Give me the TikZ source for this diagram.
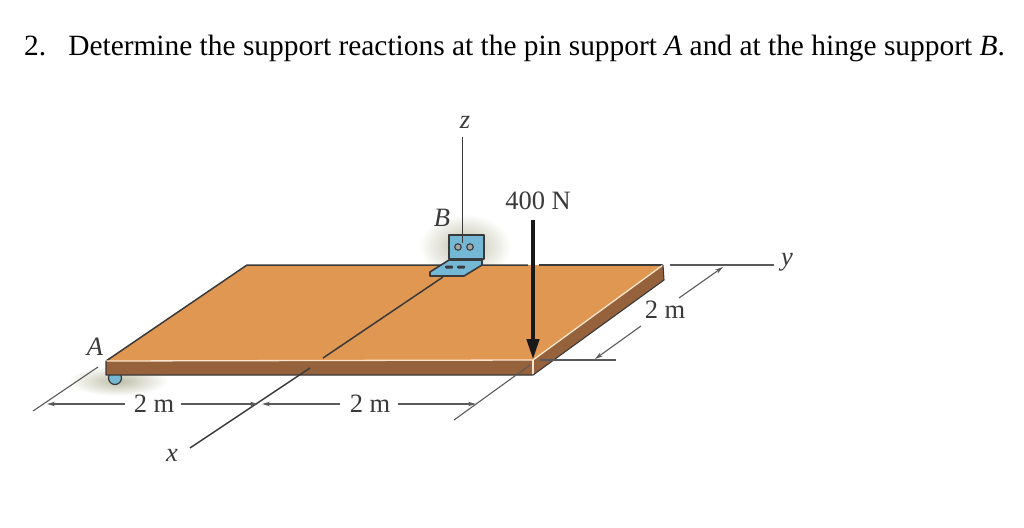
\documentclass[tikz,border=0pt]{standalone}
\usepackage{fontspec}
\setmainfont{Liberation Serif}
\usetikzlibrary{arrows.meta}
\definecolor{plate}{HTML}{E09752}
\definecolor{side}{HTML}{96623C}
\definecolor{edge}{HTML}{FBE6CF}
\definecolor{steel}{HTML}{74B8D6}
\definecolor{ink}{HTML}{3A3A3A}
\definecolor{dimcol}{HTML}{5A5A5A}
\definecolor{glow}{HTML}{BDBDA6}
\tikzset{
  dimline/.style={draw=dimcol,line width=1.1pt},
  dimtip/.style={dimline,-{Stealth[length=8pt,width=4.5pt]}},
  axisline/.style={draw=ink,line width=1.4pt},
  steelpart/.style={fill=steel,draw=ink,line width=1.6pt,line join=round},
  lab/.style={text=ink,inner sep=0pt,font=\fontsize{26.5}{27}\selectfont},
  hole/.style={circle,fill=gray!70,draw=ink,line width=1.1pt,inner sep=0pt,minimum size=6.5pt},
}
\begin{document}
\begin{tikzpicture}[x=1pt,y=-1pt]
\useasboundingbox (0,0) rectangle (1024,527);
\node[anchor=base west,inner sep=0pt,font=\fontsize{29.4}{30}\selectfont] (title) at (24,56)
  {2.\hspace{0.75em}Determine the support reactions at the pin support \textit{A} and at the hinge support \textit{B}.};
% plate corners
\coordinate (TL) at (247,265); \coordinate (TR) at (663,265);
\coordinate (BR) at (533,360); \coordinate (BL) at (106,361);
\coordinate (BLb) at (106,375); \coordinate (BRb) at (533,375);
\coordinate (TRb) at (664,280);
\coordinate (G1) at (528,265); \coordinate (G2) at (539,265);
% glows
\shade[inner color=glow,outer color=white] (465,246) ellipse [x radius=46,y radius=32];
\shade[inner color=glow,outer color=white] (118,381) ellipse [x radius=50,y radius=15];
% pin at A
\draw[fill=steel,draw=ink,line width=1.2pt] (115,378) circle [radius=6.5];
% plate
\fill[side] (BL) -- (BR) -- (TR) -- (TRb) -- (BRb) -- (BLb) -- cycle;
\fill[plate] (BL) -- (TL) -- (TR) -- (BR) -- cycle;
\draw[ink,line width=1.5pt] (BL) -- (TL) -- (G1);
\draw[ink,line width=1.5pt] (G2) -- (TR);
\draw[edge,line width=1.3pt] (BL) -- (BR) -- (TR);
\draw[edge,line width=1.6pt] (BR) -- (BRb);
\draw[ink,line width=1.1pt,line join=round] (BL) -- (BLb) -- (BRb) -- (TRb) -- (TR);
% x axis on plate
\coordinate (xa) at (443,277); \coordinate (xb) at (323,358);
\coordinate (xc) at (310,368); \coordinate (xd) at (190,448);
\draw[axisline,line width=1.5pt] (xa) -- (xb);
\draw[axisline,line width=1.5pt] (xc) -- (xd);
% bracket
\draw[steelpart] (449,235) -- (484,235) -- (484,259) -- (449,259) -- cycle;
\draw[steelpart] (449,260) -- (482,260) -- (482,265) -- (464,276) -- (430,276) -- (430,272) -- cycle;
\node[hole] (h1) at (458,247) {};
\node[hole] (h2) at (470,247) {};
\fill[ink,rounded corners=1pt] (445,265.5) rectangle (453,268.5);
\fill[ink,rounded corners=1pt] (457,265.5) rectangle (465,268.5);
% z axis
\coordinate (ztop) at (462.5,137); \coordinate (zbot) at (462.5,243);
\draw[axisline] (ztop) -- (zbot);
% force
\coordinate (fa) at (533,220); \coordinate (fb) at (533,359);
\draw[black!90,line width=3.2pt,-{Stealth[length=20pt,width=12.5pt,inset=0pt]}] (fa) -- (fb);
% dimension and extension lines
\coordinate (e1a) at (98,367); \coordinate (e1b) at (33,411);
\coordinate (e2a) at (530,365); \coordinate (e2b) at (454,420);
\draw[dimline] (e1a) -- (e1b);
\draw[dimline] (e2a) -- (e2b);
\coordinate (d1) at (47,404); \coordinate (d2) at (125,404);
\coordinate (d3) at (181,404); \coordinate (d4) at (258,404);
\coordinate (d5) at (262,404); \coordinate (d6) at (340,404);
\coordinate (d7) at (398,404); \coordinate (d8) at (476,404);
\draw[dimline,{Stealth[length=8pt,width=4.5pt]}-] (d1) -- (d2);
\draw[dimtip] (d3) -- (d4);
\draw[dimline,{Stealth[length=8pt,width=4.5pt]}-] (d5) -- (d6);
\draw[dimtip] (d7) -- (d8);
\coordinate (ya) at (670,265); \coordinate (yb) at (774,265);
\draw[dimline,line width=1.3pt] (ya) -- (yb);
\coordinate (r1) at (679,298); \coordinate (r2) at (723,267);
\coordinate (r3) at (641,326); \coordinate (r4) at (595,359);
\draw[dimtip] (r1) -- (r2);
\draw[dimtip] (r3) -- (r4);
\coordinate (e3a) at (540,360); \coordinate (e3b) at (616,360);
\draw[dimline] (e3a) -- (e3b);
% labels
\node[lab] (lz) at (465,122) {\textit{z}};
\node[lab] (lb) at (442,218) {\textit{B}};
\node[lab] (lf) at (538,201) {400 N};
\node[lab] (ly) at (787,262) {\textit{y}};
\node[lab] (lr) at (665,310) {2 m};
\node[lab] (la) at (95,347) {\textit{A}};
\node[lab] (l1) at (154,404) {2 m};
\node[lab] (l2) at (370,404) {2 m};
\node[lab] (lx) at (172,455) {\textit{x}};
\end{tikzpicture}
\end{document}
